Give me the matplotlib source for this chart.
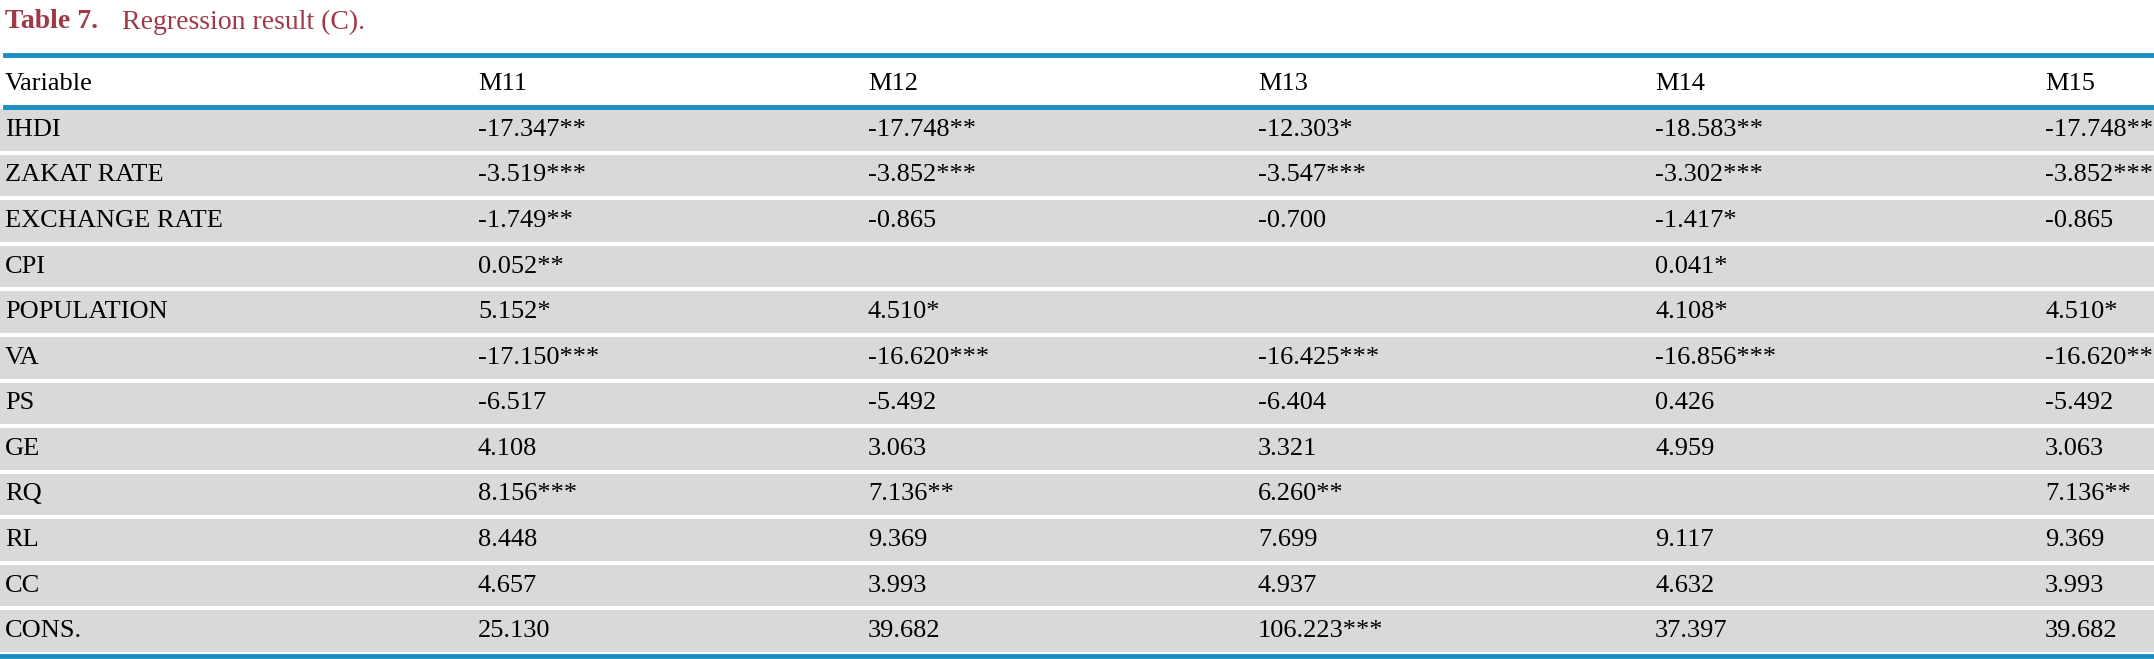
import matplotlib.pyplot as plt
from matplotlib.patches import Rectangle

variables = ["IHDI", "ZAKAT RATE", "EXCHANGE RATE", "CPI", "POPULATION", "VA",
             "PS", "GE", "RQ", "RL", "CC", "CONS."]
models = ["M11", "M12", "M13", "M14", "M15"]
m11 = ["-17.347**", "-3.519***", "-1.749**", "0.052**", "5.152*", "-17.150***",
       "-6.517", "4.108", "8.156***", "8.448", "4.657", "25.130"]
m12 = ["-17.748**", "-3.852***", "-0.865", "", "4.510*", "-16.620***",
       "-5.492", "3.063", "7.136**", "9.369", "3.993", "39.682"]
m13 = ["-12.303*", "-3.547***", "-0.700", "", "", "-16.425***",
       "-6.404", "3.321", "6.260**", "7.699", "4.937", "106.223***"]
m14 = ["-18.583**", "-3.302***", "-1.417*", "0.041*", "4.108*", "-16.856***",
       "0.426", "4.959", "", "9.117", "4.632", "37.397"]
m15 = ["-17.748**", "-3.852***", "-0.865", "", "4.510*", "-16.620**",
       "-5.492", "3.063", "7.136**", "9.369", "3.993", "39.682"]
columns = [m11, m12, m13, m14, m15]

W, H = 2154, 659
fig = plt.figure(figsize=(W / 100, H / 100), dpi=100)
ax = fig.add_axes([0, 0, 1, 1])
ax.set_xlim(0, W)
ax.set_ylim(H, 0)
ax.axis("off")

font = "Liberation Serif"
blue = "#1a8ec2"
red = "#9e3a48"
fs = 19

ax.text(5, 22, "Table 7.", color=red, fontsize=20, fontweight="bold",
        family=font, va="center")
ax.text(122, 22, "Regression result (C).", color=red, fontsize=20,
        family=font, va="center")

col_x = [478, 868, 1258, 1655, 2045]
ax.plot([5, W], [55, 55], color=blue, lw=3.5)
ax.text(5, 84, "Variable", fontsize=fs, family=font, va="center")
for x, m in zip(col_x, models):
    ax.text(x, 84, m, fontsize=fs, family=font, va="center")
ax.plot([5, W], [107, 107], color=blue, lw=3.5)

top, bottom = 109, 656
rh = (bottom - top) / len(variables)
for i, var in enumerate(variables):
    y0 = top + i * rh
    ax.add_patch(Rectangle((0, y0), W, rh - 4, color="#d9d9d9", lw=0))
    yc = y0 + (rh - 4) / 2
    ax.text(5, yc, var, fontsize=fs, family=font, va="center")
    for x, col in zip(col_x, columns):
        ax.text(x, yc, col[i], fontsize=fs, family=font, va="center")
ax.plot([0, W], [bottom, bottom], color=blue, lw=3.5)

fig.savefig("out.png", dpi=100)
